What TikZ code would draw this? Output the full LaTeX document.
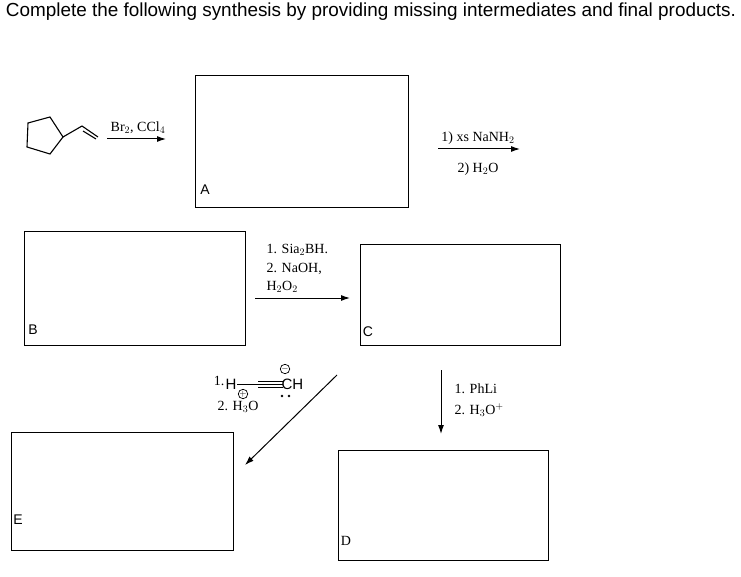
\documentclass[tikz,border=0pt]{standalone}
\usepackage{fontspec}
\usetikzlibrary{arrows.meta}
\setmainfont{Liberation Serif}
\newfontfamily\arial{Liberation Sans}
\begin{document}
\begin{tikzpicture}[x=1pt,y=-1pt,line width=1.1pt,
  box/.style={draw,line width=1.1pt},
  rg/.style={font=\fontsize{14}{16}\selectfont,inner sep=0pt},
  lab/.style={font=\arial\fontsize{14}{16}\selectfont,inner sep=0pt},
  arr/.style={-{Latex[length=9pt,width=6pt]},line width=1pt}]
\useasboundingbox (0,0) rectangle (741,577);
\node[font=\arial\fontsize{18.9}{22}\selectfont,inner sep=0pt] (title) at (371,12) {Complete the following synthesis by providing missing intermediates and final products.};
% molecule
\draw (28,123) -- (50,117) -- (63,137) -- (50,154) -- (27,147) -- cycle;
\draw (63,137) -- (82,126) -- (98,137);
\draw (83,131) -- (96,139);
\coordinate (a1s) at (107,139); \coordinate (a1e) at (166,139);
\draw[arr] (a1s) -- (a1e);
\node[rg] (r1) at (138,128) {Br$_2$, CCl$_4$};
\node[box,minimum width=213pt,minimum height=132pt,anchor=north west] (A) at (195,75) {};
\node[lab] (la) at (205,190) {A};
\coordinate (a2s) at (438,149); \coordinate (a2e) at (520,149);
\draw[arr] (a2s) -- (a2e);
\node[rg] (r2a) at (478,138) {1) xs NaNH$_2$};
\node[rg] (r2b) at (478,169) {2) H$_2$O};
\node[box,minimum width=221pt,minimum height=114pt,anchor=north west] (B) at (24,231) {};
\node[lab] (lb) at (33,330) {B};
\coordinate (a3s) at (255,298); \coordinate (a3e) at (350,298);
\draw[arr] (a3s) -- (a3e);
\node[rg,anchor=west] (r3a) at (266,250) {1. Sia$_2$BH.};
\node[rg,anchor=west] (r3b) at (266,269) {2. NaOH,};
\node[rg,anchor=west] (r3c) at (266,287) {H$_2$O$_2$};
\node[box,minimum width=200pt,minimum height=101pt,anchor=north west] (C) at (360,244) {};
\node[lab] (lc) at (368,332) {C};
\coordinate (a4s) at (337,375); \coordinate (a4e) at (245,465);
\draw[arr] (a4s) -- (a4e);
\node[rg] (r4n) at (219,381) {1.};
\node[lab,font=\arial\fontsize{15}{16}\selectfont] (h) at (231,384) {H};
\draw[line width=0.8pt] (237,384) -- (258,384);
\draw[line width=0.8pt] (258,381) -- (283,381) (258,384) -- (283,384) (258,387) -- (283,387);
\node[lab,font=\arial\fontsize{15}{16}\selectfont,anchor=west] (ch) at (281,384) {CH};
\node[draw,circle,inner sep=0pt,minimum size=9pt,line width=0.7pt,font=\fontsize{9}{9}\selectfont] (m) at (285,369) {$-$};
\fill (282,396) circle (1.4pt) (289,396) circle (1.4pt);
\node[rg] (r4b) at (238,407) {2. H$_3$O};
\node[draw,circle,inner sep=0pt,minimum size=9pt,line width=0.7pt,font=\fontsize{9}{9}\selectfont] (p) at (243,394) {$+$};
\coordinate (a5s) at (441,370); \coordinate (a5e) at (441,434);
\draw[arr] (a5s) -- (a5e);
\node[rg,anchor=west] (r5a) at (454,389) {1. PhLi};
\node[rg,anchor=west] (r5b) at (454,410) {2. H$_3$O$^+$};
\node[box,minimum width=210pt,minimum height=110pt,anchor=north west] (D) at (338,450) {};
\node[lab,font=\fontsize{14}{16}\selectfont] (ld) at (346,541) {D};
\node[box,minimum width=222pt,minimum height=118pt,anchor=north west] (E) at (11,432) {};
\node[lab] (le) at (18,520) {E};
\end{tikzpicture}
\end{document}
